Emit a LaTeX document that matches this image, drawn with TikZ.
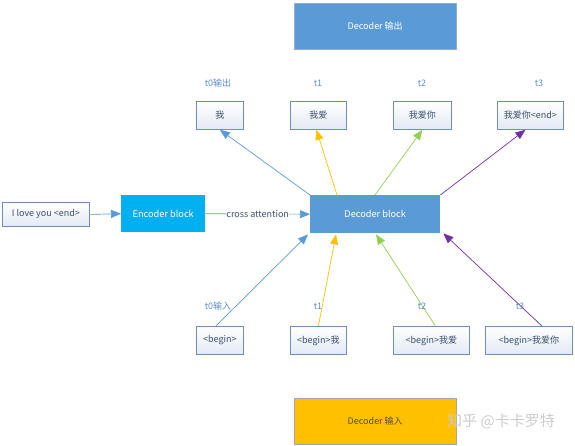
\documentclass[tikz,border=0pt]{standalone}
\usepackage{fontspec}
\setmainfont{Noto Sans CJK SC}
\usetikzlibrary{arrows.meta,calc}
\definecolor{dblue}{HTML}{5B9BD5}
\definecolor{ecyan}{HTML}{00B0F0}
\definecolor{gold}{HTML}{FFC000}
\definecolor{lgreen}{HTML}{92D050}
\definecolor{purp}{HTML}{7030A0}
\definecolor{boxline}{HTML}{6F8FB5}
\definecolor{boxtext}{HTML}{3C4F6B}
\definecolor{lbl}{HTML}{5B8EC4}
\definecolor{lboxfill}{HTML}{E2EAF5}
\begin{document}
\begin{tikzpicture}[x=1pt,y=-1pt,
  tok/.style={draw=boxline, line width=0.8pt, top color=white, bottom color=lboxfill,
    minimum height=28pt, inner sep=0pt, font=\fontsize{9}{11}\selectfont, text=boxtext, anchor=north west},
  blk/.style={minimum height=37pt, inner sep=0pt, font=\fontsize{9.2}{11}\selectfont, text=white, anchor=north west},
  big/.style={minimum width=162pt, minimum height=46pt, inner sep=0pt, font=\fontsize{9}{11}\selectfont, anchor=north west},
  tl/.style={font=\fontsize{9}{11}\selectfont, text=lbl, inner sep=0pt},
  arr/.style={line width=0.7pt, -{Triangle[length=10pt,width=8pt]}}
]
\useasboundingbox (0,0) rectangle (575,446);
% big boxes
\node[big, fill=dblue, draw=dblue!80!black!60, text=white] (dout) at (294,3) {Decoder 输出};
\node[big, fill=gold, draw=gray!70, text=gray!60!black] (din) at (294,398) {Decoder 输入};
% output tokens
\node[tok, minimum width=47pt] (o0) at (196,101) {我};
\node[tok, minimum width=56pt] (o1) at (290,101) {我爱};
\node[tok, minimum width=58pt] (o2) at (393,101) {我爱你};
\node[tok, minimum width=66pt] (o3) at (497,101) {我爱你<end>};
% labels top
\node[tl] (lo0) at (218,83) {t0输出};
\node[tl] (lo1) at (318,83) {t1};
\node[tl] (lo2) at (422,83) {t2};
\node[tl] (lo3) at (539,83) {t3};
% input tokens
\node[tok, minimum width=47pt] (i0) at (196,326) {<begin>};
\node[tok, minimum width=56pt] (i1) at (290,326) {<begin>我};
\node[tok, minimum width=76pt] (i2) at (393,326) {<begin>我爱};
\node[tok, minimum width=87pt] (i3) at (485,326) {<begin>我爱你};
% middle
\node[tok, minimum width=87pt, minimum height=24pt] (src) at (2,202) {I love you <end>};
\node[blk, fill=ecyan, minimum width=84pt] (enc) at (121,195) {Encoder block};
\node[blk, fill=dblue, minimum width=130pt, minimum height=38pt] (dec) at (310,195) {Decoder block};
% middle arrows
\draw[arr, dblue] (src.east) -- (enc.west);
\draw[arr, dblue] (enc.east) -- node[fill=white, inner sep=0.5pt, font=\fontsize{9}{11}\selectfont, text=boxtext] (ca) {cross attention} (dec.west);
% top arrows
\draw[arr, dblue] (dec.north west) -- (o0.south);
\draw[arr, gold] ($(dec.north west)+(27,0)$) -- ($(o1.south)+(-2,0)$);
\draw[arr, lgreen] ($(dec.north west)+(65,0)$) -- (o2.south);
\draw[arr, purp] (dec.north east) -- ($(o3.south)+(-5,0)$);
% bottom arrows
\draw[arr, dblue] ($(i0.north)+(-4,0)$) -- ($(dec.south west)+(-2,1)$);
\draw[arr, gold] (i1.north) -- ($(dec.south west)+(26,1)$);
\draw[arr, lgreen] ($(i2.north)+(4,0)$) -- ($(dec.south west)+(66,1)$);
\draw[arr, purp] ($(i3.north)+(13,0)$) -- ($(dec.south east)+(3,0)$);
% labels bottom (drawn over lines)
\node[tl] (li0) at (218,306) {t0输入};
\node[tl] (li1) at (318,306) {t1};
\node[tl] (li2) at (422,306) {t2};
\node[tl] (li3) at (520,306) {t3};
% watermark
\node[font=\fontsize{15}{17}\selectfont, text=gray!40, anchor=west, inner sep=0pt] (wm) at (447,421) {知乎 @卡卡罗特};
\end{tikzpicture}
\end{document}
